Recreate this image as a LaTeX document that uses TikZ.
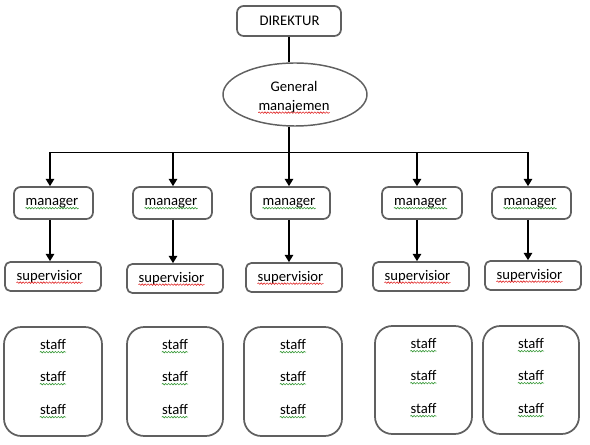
\documentclass[tikz,border=0pt]{standalone}
\usepackage{fontspec}
\setmainfont{Carlito}
\usetikzlibrary{arrows.meta,shapes.geometric,decorations.pathmorphing,fit}
\definecolor{bordergray}{HTML}{606060}
\definecolor{sqred}{HTML}{E02828}
\definecolor{sqgreen}{HTML}{3A9A3A}
\begin{document}
\begin{tikzpicture}[x=0.75pt,y=-0.75pt,
  box/.style={draw=bordergray, line width=1.3pt, rounded corners=4pt, inner sep=0pt},
  staffbox/.style={box, rounded corners=13pt},
  oval/.style={draw=bordergray, line width=1.1pt, ellipse, inner sep=0pt, minimum width=108pt, minimum height=47.25pt},
  txt/.style={inner sep=0pt, anchor=base, font=\fontsize{11}{13}\selectfont},
  link/.style={draw=black, line width=0.8pt},
  arr/.style={link, -{Triangle[width=6.5pt,length=5.5pt]}},
  wave/.style={line width=0.45pt, decorate, decoration={snake, segment length=2.2pt, amplitude=0.55pt}},
  redwave/.style={wave, draw=sqred},
  greenwave/.style={wave, draw=sqgreen},
]
\useasboundingbox (0,0) rectangle (590,445);

% DIREKTUR
\node[box, rounded corners=5pt, fit={(237,6)(341,36)}] (dir) {};
\node[txt] (tdir) at (289.5,25.5) {DIREKTUR};

% General manajemen
\node[oval] (gm) at (295,94.5) {};
\node[txt] (tgm1) at (294,91.5) {General};
\node[txt] (tgm2) at (294,110.5) {manajemen};
\draw[redwave] ([yshift=-1.6pt]tgm2.base west) -- ([yshift=-1.6pt]tgm2.base east);

% managers
\foreach \i/\xl/\xr/\dx in {1/14/93/50, 2/133/212/173, 3/251/330/289, 4/382/462/417, 5/492/571/528} {
  \node[box, rounded corners=5pt, fit={(\xl,187)(\xr,219)}] (m\i) {};
  \node[txt] (tm\i) at ({(\xl+\xr)/2-1.5},206) {manager};
  \draw[greenwave] ([yshift=-1.6pt]tm\i.base west) -- ([yshift=-1.6pt]tm\i.base east);
  \coordinate (b\i) at (\dx,152.5);
}

% supervisors
\foreach \i/\xl/\xr/\yt in {1/5/101/262, 2/127/223/264, 3/246/342/263, 4/373/469/262, 5/485/581/261} {
  \node[box, fit={(\xl,\yt)(\xr,\yt+29)}] (s\i) {};
  \node[txt] (ts\i) at ({(\xl+\xr)/2-3.5},\yt+18.5) {supervisior};
  \draw[redwave] ([yshift=-1.6pt]ts\i.base west) -- ([yshift=-1.6pt]ts\i.base east);
}

% staff
\foreach \i/\xl/\xr/\yt/\yb in {1/4/102/327/436, 2/127/223/327/436, 3/244/342/327/436, 4/375/472/326/434, 5/483/579/326/434} {
  \node[staffbox, fit={(\xl,\yt)(\xr,\yb)}] (st\i) {};
  \foreach \k/\dy in {a/23, b/55, c/88} {
    \node[txt] (st\i\k) at ({(\xl+\xr)/2},\yt+\dy) {staff};
    \draw[greenwave] ([yshift=-1.6pt]st\i\k.base west) -- ([yshift=-1.6pt]st\i\k.base east);
  }
}

% connectors
\draw[link] (dir.south) -- (dir.south |- gm.north);
\draw[link] (gm.south -| dir.south) -- (b3);
\draw[link, line cap=rect] (b1) -- (b5);
\foreach \i in {1,...,5} {
  \draw[arr] (b\i) -- (b\i |- m\i.north);
  \draw[arr] (b\i |- m\i.south) -- (b\i |- s\i.north);
}
\end{tikzpicture}
\end{document}
